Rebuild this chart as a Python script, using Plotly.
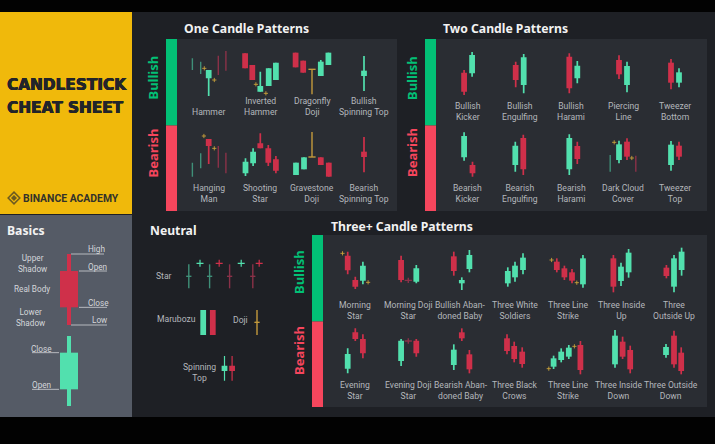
import plotly.graph_objects as go

W, H = 715, 444

# ---------- data: candles are (slot, open, high, low, close) ----------
ONE_BULL_LABELS = ["Hammer", "Inverted<br>Hammer", "Dragonfly<br>Doji", "Bullish<br>Spinning Top"]
ONE_BULL_CANDLES = [
    [(0, 95, 120, 42, 120)],
    [(-1.9, 170, 170, 125, 125), (-1, 135, 135, 90, 90), (0, 55, 115, 55, 72), (1.05, 72, 125, 72, 125), (1.95, 90, 142, 90, 142)],
    [(-2.05, 172, 172, 128, 128), (-1.1, 148, 148, 112, 112), (1.1, 102, 150, 102, 145), (2.05, 135, 172, 135, 172)],
    [(0, 102, 162, 57, 118)],
]
ONE_BEAR_LABELS = ["Hanging<br>Man", "Shooting<br>Star", "Gravestone<br>Doji", "Bearish<br>Spinning Top"]
ONE_BEAR_CANDLES = [
    [(0, 213, 213, 138, 192)],
    [(-1.85, 110, 155, 102, 145), (-0.9, 140, 185, 132, 175), (0, 200, 230, 185, 185), (1, 185, 195, 132, 142), (1.95, 152, 162, 110, 118)],
    [(-2, 105, 142, 105, 142), (-1, 122, 158, 122, 158), (1.1, 158, 158, 135, 135), (2.1, 142, 142, 100, 100)],
    [(0, 175, 219, 113, 159)],
]
TWO_BULL_LABELS = ["Bullish<br>Kicker", "Bullish<br>Engulfing", "Bullish<br>Harami", "Piercing<br>Line", "Tweezer<br>Bottom"]
TWO_BULL_CANDLES = [
    [(-0.45, 112, 120, 45, 55), (0.55, 110, 174, 100, 165)],
    [(-0.5, 135, 145, 68, 90), (0.5, 75, 168, 50, 158)],
    [(-0.25, 160, 170, 50, 65), (0.75, 95, 147, 80, 133)],
    [(-0.5, 150, 164, 93, 107), (0.5, 75, 145, 53, 132)],
    [(-0.5, 142, 153, 62, 82), (0.5, 82, 125, 68, 113)],
]
TWO_BEAR_LABELS = ["Bearish<br>Kicker", "Bearish<br>Engulfing", "Bearish<br>Harami", "Dark Cloud<br>Cover", "Tweezer<br>Top"]
TWO_BEAR_CANDLES = [
    [(-0.45, 158, 233, 148, 222), (0.6, 135, 145, 100, 110)],
    [(-0.55, 135, 205, 115, 193), (0.45, 216, 226, 105, 122)],
    [(-0.25, 122, 227, 105, 216), (0.75, 192, 205, 138, 153)],
    [(-0.5, 150, 208, 140, 197), (0.5, 205, 215, 150, 160)],
    [(-0.5, 135, 207, 118, 196), (0.5, 193, 205, 150, 160)],
]
THREE_BULL_LABELS = ["Morning<br>Star", "Morning Doji<br>Star", "Bullish Aban-<br>doned Baby", "Three White<br>Soldiers",
                     "Three Line<br>Strike", "Three Inside<br>Up", "Three<br>Outside Up"]
THREE_BULL_CANDLES = [
    [(-0.95, 178, 190, 122, 134), (0, 105, 115, 78, 85), (0.95, 103, 160, 92, 148)],
    [(-0.9, 165, 178, 98, 105), (1, 100, 150, 95, 140)],
    [(-0.9, 176, 190, 118, 132), (0.1, 95, 113, 75, 105), (1.05, 138, 195, 128, 180)],
    [(-0.9, 95, 143, 85, 132), (0, 113, 160, 100, 148), (1, 135, 185, 122, 172)],
    [(-1.4, 160, 170, 128, 135), (-0.45, 140, 148, 105, 113), (0.5, 128, 138, 95, 103), (1.87, 92, 180, 82, 170)],
    [(-0.95, 170, 180, 68, 85), (0, 102, 157, 87, 145), (0.95, 128, 198, 112, 187)],
    [(-0.95, 142, 150, 110, 117), (0, 85, 180, 68, 170), (0.95, 135, 202, 118, 190)],
]
THREE_BEAR_LABELS = ["Evening<br>Star", "Evening Doji<br>Star", "Bearish Aban-<br>doned Baby", "Three Black<br>Crows",
                     "Three Line<br>Strike", "Three Inside<br>Down", "Three Outside<br>Down"]
THREE_BEAR_CANDLES = [
    [(-0.95, 139, 200, 125, 183), (0, 248, 260, 222, 228), (0.95, 228, 242, 170, 185)],
    [(-0.9, 162, 228, 147, 223), (1, 223, 228, 175, 185)],
    [(-0.9, 150, 212, 135, 196), (0.1, 248, 260, 222, 230), (1.05, 182, 195, 125, 137)],
    [(-1, 230, 242, 182, 192), (-0.1, 207, 220, 158, 168), (0.9, 190, 203, 142, 153)],
    [(-1.8, 145, 178, 138, 170), (-0.85, 165, 200, 158, 190), (0.1, 175, 210, 168, 202), (1.55, 210, 222, 122, 135)],
    [(-0.75, 152, 255, 142, 238), (0.2, 220, 235, 168, 175), (1.15, 195, 208, 125, 137)],
    [(-1, 180, 213, 172, 204), (0, 238, 253, 142, 152), (0.9, 187, 203, 122, 132)],
]
# faded context candles: (slot, high, low, direction)
ONE_BULL_GHOSTS = {"Hammer": [(-2.04, 155, 120, 1), (-1, 145, 108, 1), (1.2, 163, 105, -1), (2.15, 177, 118, -1)]}
ONE_BEAR_GHOSTS = {"Hanging<br>Man": [(-2.04, 142, 100, 1), (-1, 170, 125, 1), (1.2, 192, 127, -1), (2.15, 172, 110, -1)]}
TWO_BEAR_GHOSTS = {"Dark Cloud<br>Cover": [(-1.6, 165, 115, 1), (1.6, 163, 115, -1)]}
# doji: (slot, price, high, low, direction)
ONE_BULL_DOJIS = {"Dragonfly<br>Doji": [(0, 122, 122, 47, 0)]}
ONE_BEAR_DOJIS = {"Gravestone<br>Doji": [(0, 159, 234, 159, 0)]}
THREE_BULL_DOJIS = {"Morning Doji<br>Star": [(0, 104, 112, 96, -1)]}
THREE_BEAR_DOJIS = {"Evening Doji<br>Star": [(0, 222, 230, 214, -1)]}
# yellow reference marks: (slot, price)
ONE_BULL_MARKS = {"Hammer": [(-0.55, 125), (0.7, 90)], "Inverted<br>Hammer": [(-0.55, 77), (0.7, 50)]}
ONE_BEAR_MARKS = {"Hanging<br>Man": [(-0.6, 222), (0.7, 185)]}
TWO_BEAR_MARKS = {"Dark Cloud<br>Cover": [(-1.1, 203), (1.1, 156)]}
THREE_BULL_MARKS = {"Morning<br>Star": [(-1.6, 185), (1.6, 98)], "Three Line<br>Strike": [(-2.05, 165), (1.1, 97)]}
THREE_BEAR_MARKS = {"Three Line<br>Strike": [(-2.4, 139), (0.8, 206)]}

STAR_DOJIS = [(-4.4, 416, 452, 380, 1), (-1.8, 416, 452, 380, 1), (0.7, 416, 452, 380, -1), (3.6, 416, 452, 380, -1)]
STAR_TICKS = [(-3.0, 455, 1), (-0.6, 455, -1), (2.15, 455, 1), (4.4, 455, -1)]
MARUBOZU_CANDLES = [(-0.6, 240, 315, 240, 315), (0.6, 315, 315, 240, 240)]
DOJI_DOJIS = [(0, 278, 315, 240, 0)]
SPINNING_CANDLES = [(-0.5, 132, 177, 103, 148), (0.45, 148, 177, 103, 132)]
BASIC_RED = (0, 417, 468, 255, 308)
BASIC_GREEN = (0, 62, 222, 12, 172)

BG, PANEL, BLACK = "#1e2025", "#2a2d33", "#020202"
YELLOW, GREY = "#f0b90b", "#555b66"
BAR_G, BAR_R = "#02c076", "#f6465d"
UP, DOWN = "#52e0ae", "#cf304a"
TONE = {1: "#3f8f78", -1: "#8a3148", 0: "#c39a3c"}
BRIGHT = {1: "#52e0ae", -1: "#cf304a"}
LABEL = "#b4b7bc"
FONT = "Roboto"

fig = go.Figure()
axis_n = [0]


def new_axes(cx, top, h, half=40, slot=8.0):
    axis_n[0] += 1
    n = axis_n[0]
    s = "" if n == 1 else str(n)
    fig.layout["xaxis" + s] = dict(domain=[(cx - half) / W, (cx + half) / W], range=[-half / slot, half / slot],
                                   visible=False, fixedrange=True, anchor="y" + s)
    fig.layout["yaxis" + s] = dict(domain=[1 - (top + h) / H, 1 - top / H], range=[0, h * 3],
                                   visible=False, fixedrange=True, anchor="x" + s)
    return "x" + s, "y" + s


def segs(items, xa, ya, color, width):
    if not items:
        return
    xs, ys = [], []
    for (x0, y0, x1, y1) in items:
        xs += [x0, x1, None]
        ys += [y0, y1, None]
    fig.add_trace(go.Scatter(x=xs, y=ys, mode="lines", xaxis=xa, yaxis=ya, hoverinfo="skip",
                             line=dict(color=color, width=width), showlegend=False))


def draw(xa, ya, candles=(), ghosts=(), dojis=(), marks=(), body=0.72, wick=1.7, tick=0.45):
    for (s, hi, lo, d) in ghosts:
        segs([(s, hi, s, lo)], xa, ya, TONE[d], 1.4)
    for (s, p, hi, lo, d) in dojis:
        segs([(s, hi, s, lo), (s - tick, p, s + tick, p)], xa, ya, TONE[d], 1.4)
    if candles:
        ups = [c for c in candles if c[4] >= c[1]]
        dns = [c for c in candles if c[4] < c[1]]
        segs([(c[0], c[2], c[0], c[3]) for c in ups], xa, ya, UP, wick)
        segs([(c[0], c[2], c[0], c[3]) for c in dns], xa, ya, DOWN, wick)
        fig.add_trace(go.Bar(x=[c[0] for c in candles], y=[c[4] - c[1] for c in candles], base=[c[1] for c in candles],
                             width=body, xaxis=xa, yaxis=ya, hoverinfo="skip", showlegend=False,
                             marker=dict(color=[UP if c[4] >= c[1] else DOWN for c in candles], line=dict(width=0))))
    if marks:
        fig.add_trace(go.Scatter(x=[m[0] for m in marks], y=[m[1] for m in marks], mode="markers", xaxis=xa, yaxis=ya,
                                 hoverinfo="skip", showlegend=False,
                                 marker=dict(symbol="cross-thin", size=3, line=dict(color="#c9a23a", width=0.9))))


def text(x, y, t, size=8.6, color=LABEL, family=FONT, bold=False, anchor="center", angle=0, shadow=None):
    if anchor == "left":
        x -= 2
    font = dict(size=size, color=color, family=family)
    if shadow:
        font["shadow"] = shadow
    fig.add_annotation(x=x / W, y=1 - y / H, xref="paper", yref="paper", text=f"<b>{t}</b>" if bold else t, showarrow=False,
                       xanchor=anchor, yanchor="middle", textangle=angle, font=font)


def rect(x0, y0, x1, y1, color):
    fig.add_shape(type="rect", xref="paper", yref="paper", x0=x0 / W, x1=x1 / W, y0=1 - y1 / H, y1=1 - y0 / H,
                  fillcolor=color, line_width=0, layer="below")


def row(centers, top, labels, candles, label_y, ghosts={}, dojis={}, marks={}, label_x={}):
    for cx, lab, cs in zip(centers, labels, candles):
        xa, ya = new_axes(cx, top, 100)
        draw(xa, ya, cs, ghosts.get(lab, ()), dojis.get(lab, ()), marks.get(lab, ()))
        text(label_x.get(lab, cx), label_y if "<br>" in lab else label_y + 5, lab)


# ---------- panels ----------
rect(0, 0, W, H, BG)
rect(0, 0, W, 12, BLACK)
rect(0, 417, W, H, BLACK)
rect(0, 12, 132, 214, YELLOW)
rect(0, 215, 132, 417, GREY)
for x0, x1, y0, y1 in [(166, 397, 39, 211), (425, 707, 39, 211), (312, 707, 235, 407)]:
    rect(x0, y0, x1, y1, PANEL)
    rect(x0, y0, x0 + 11, (y0 + y1) / 2 + 0.5, BAR_G)
    rect(x0, (y0 + y1) / 2 + 0.5, x0 + 11, y1, BAR_R)

# ---------- titles ----------
HEAD = "Noto Sans"
INK = "#22242a"
text(184, 28.5, "One Candle Patterns", 12.2, "#f2f2f2", HEAD, True, "left")
text(443, 28.5, "Two Candle Patterns", 12.2, "#f2f2f2", HEAD, True, "left")
text(331, 226, "Three+ Candle Patterns", 12.2, "#f2f2f2", HEAD, True, "left")
text(150, 230.5, "Neutral", 12.2, "#f2f2f2", HEAD, True, "left")
text(7, 230, "Basics", 12.2, "#f2f2f2", HEAD, True, "left")
THICK = f"0.5px 0 0 {INK}, -0.3px 0 0 {INK}, 0 0.4px 0 {INK}"
text(7, 84.5, "CANDLESTICK", 15.3, INK, "DejaVu Sans", True, "left", shadow=THICK)
text(7, 107.5, "CHEAT SHEET", 15.3, INK, "DejaVu Sans", True, "left", shadow=THICK)
text(23, 198, "BINANCE ACADEMY", 10.4, "#33322a", "Roboto", True, "left")
for x, y, t in [(152.5, 78, "Bullish"), (152.5, 153, "Bearish"), (412, 78, "Bullish"), (412, 153, "Bearish"),
                (299, 272, "Bullish"), (299, 351, "Bearish")]:
    text(x, y, t, 13, BAR_G if t == "Bullish" else BAR_R, HEAD, True, "center", -90)

# ---------- logo ----------
xa, ya = new_axes(14, 188, 20, half=8)
fig.add_trace(go.Scatter(x=[0, 0], y=[30, 30], mode="markers", xaxis=xa, yaxis=ya, hoverinfo="skip", showlegend=False,
                         marker=dict(symbol=["diamond-open", "diamond"], size=[9, 3], color="#33322a", line=dict(width=1.5, color="#33322a"))))

# ---------- patterns ----------
ONE_X = [208.7, 260.3, 312, 364]
TWO_X = [467.7, 519.7, 571.3, 623, 675]
THREE_X = [355.3, 408.3, 461, 515, 568, 621, 674]
row(ONE_X, 10, ONE_BULL_LABELS, ONE_BULL_CANDLES, 107, ONE_BULL_GHOSTS, ONE_BULL_DOJIS, ONE_BULL_MARKS)
row(ONE_X, 110, ONE_BEAR_LABELS, ONE_BEAR_CANDLES, 193.5, ONE_BEAR_GHOSTS, ONE_BEAR_DOJIS, ONE_BEAR_MARKS)
row(TWO_X, 10, TWO_BULL_LABELS, TWO_BULL_CANDLES, 112)
row(TWO_X, 110, TWO_BEAR_LABELS, TWO_BEAR_CANDLES, 193.5, TWO_BEAR_GHOSTS, {}, TWO_BEAR_MARKS)
row(THREE_X, 215, THREE_BULL_LABELS, THREE_BULL_CANDLES, 310, {}, THREE_BULL_DOJIS, THREE_BULL_MARKS)
row(THREE_X, 315, THREE_BEAR_LABELS, THREE_BEAR_CANDLES, 390, {}, THREE_BEAR_DOJIS, THREE_BEAR_MARKS,
    {"Three Inside<br>Down": 618, "Three Outside<br>Down": 671})

# ---------- neutral ----------
xa, ya = new_axes(224, 215, 200, half=42)
draw(xa, ya, dojis=STAR_DOJIS, tick=0.33)
for s, p, d in STAR_TICKS:
    fig.add_trace(go.Scatter(x=[s], y=[p], mode="markers", xaxis=xa, yaxis=ya, hoverinfo="skip", showlegend=False,
                             marker=dict(symbol="cross-thin", size=5, line=dict(color=BRIGHT[d], width=1.2))))
xa, ya = new_axes(208, 215, 200)
draw(xa, ya, MARUBOZU_CANDLES)
xa, ya = new_axes(257, 215, 200)
draw(xa, ya, dojis=DOJI_DOJIS, tick=0.33)
xa, ya = new_axes(228.5, 215, 200)
draw(xa, ya, SPINNING_CANDLES, wick=1.2)
text(164, 276, "Star")
text(176, 319, "Marubozu")
text(240, 319.5, "Doji")
text(199, 372, "Spinning<br>Top")

# ---------- basics ----------
xa, ya = new_axes(69, 210, 200, half=50, slot=20)
draw(xa, ya, [BASIC_RED, BASIC_GREEN], body=0.9, wick=4)
o, hi, lo, c = BASIC_RED[1], BASIC_RED[2], BASIC_RED[3], BASIC_RED[4]
go_, _, _, gc = BASIC_GREEN[1], BASIC_GREEN[2], BASIC_GREEN[3], BASIC_GREEN[4]
segs([(0.1, hi, 1.75, hi), (0.5, o, 1.9, o), (0.5, c, 1.9, c), (0.1, lo, 1.9, lo),
      (-1.85, gc, -0.5, gc), (-1.85, go_, -0.5, go_)], xa, ya, "#cfd2d6", 0.8)
for x, y, t in [(96, 249, "High"), (97, 266.5, "Open"), (98, 303, "Close"), (99, 320, "Low"),
                (41, 349, "Close"), (41, 385, "Open"), (32, 263.5, "Upper<br>Shadow"), (32, 289, "Real Body"),
                (31, 317, "Lower<br>Shadow")]:
    text(x, y, t, 8.2, "#d4d6da")

fig.update_layout(width=W, height=H, margin=dict(l=0, r=0, t=0, b=0), barmode="overlay", showlegend=False,
                  paper_bgcolor=BG, plot_bgcolor="rgba(0,0,0,0)")
fig.write_html("out.html", config={"displayModeBar": False}, post_script="document.body.style.margin='0';")
